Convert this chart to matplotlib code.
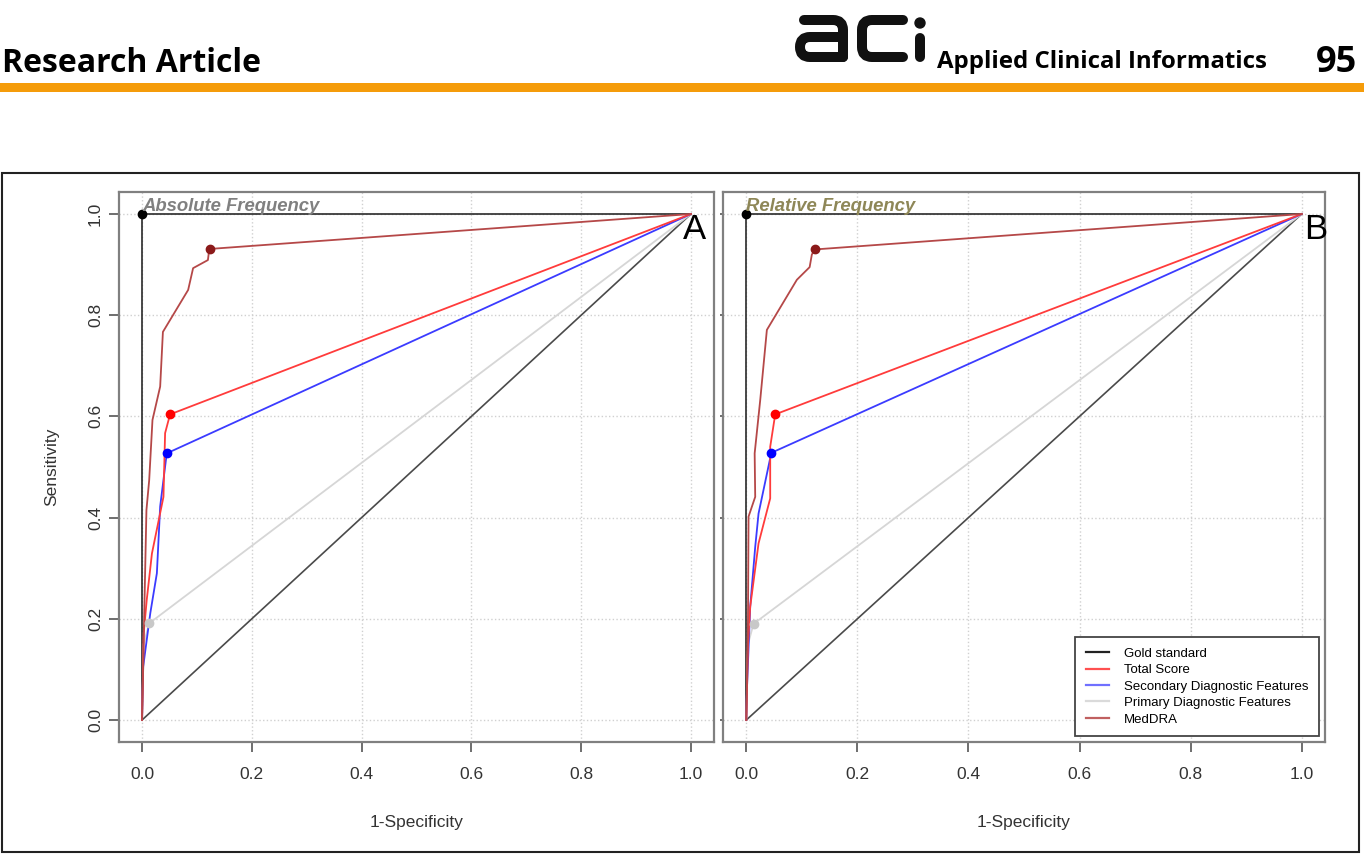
import matplotlib
matplotlib.use("Agg")
import numpy as np
import matplotlib.pyplot as plt
from matplotlib import font_manager
from matplotlib.path import Path
from matplotlib.patches import PathPatch, Rectangle, Circle

# ---- data ----
gold_fpr = [0.0, 0.0, 1.0]
gold_tpr = [0.0, 1.0, 1.0]

# panel A: absolute frequency
total_fpr_a = [0.0, 0.003, 0.0085, 0.018, 0.039, 0.042, 0.051, 1.0]
total_tpr_a = [0.0, 0.171, 0.237, 0.329, 0.441, 0.567, 0.604, 1.0]
second_fpr_a = [0.0, 0.002, 0.015, 0.027, 0.033, 0.045, 1.0]
second_tpr_a = [0.0, 0.105, 0.211, 0.290, 0.422, 0.527, 1.0]
primary_fpr_a = [0.0, 0.003, 0.013, 1.0]
primary_tpr_a = [0.0, 0.150, 0.191, 1.0]
meddra_fpr_a = [0.0, 0.002, 0.003, 0.008, 0.013, 0.019, 0.033, 0.038,
                0.084, 0.093, 0.120, 0.122, 0.124, 1.0]
meddra_tpr_a = [0.0, 0.100, 0.160, 0.415, 0.474, 0.593, 0.659, 0.767,
                0.850, 0.893, 0.909, 0.927, 0.931, 1.0]

# panel B: relative frequency
total_fpr_b = [0.0, 0.003, 0.007, 0.022, 0.043, 0.043, 0.052, 1.0]
total_tpr_b = [0.0, 0.150, 0.224, 0.349, 0.438, 0.540, 0.604, 1.0]
second_fpr_b = [0.0, 0.001, 0.007, 0.016, 0.022, 0.045, 1.0]
second_tpr_b = [0.0, 0.059, 0.224, 0.342, 0.408, 0.528, 1.0]
primary_fpr_b = [0.0, 0.003, 0.013, 1.0]
primary_tpr_b = [0.0, 0.150, 0.190, 1.0]
meddra_fpr_b = [0.0, 0.003, 0.004, 0.016, 0.015, 0.025, 0.037, 0.091,
                0.114, 0.118, 0.124, 1.0]
meddra_tpr_b = [0.0, 0.200, 0.402, 0.441, 0.527, 0.632, 0.771, 0.870,
                0.895, 0.920, 0.930, 1.0]

ticks = [0.0, 0.2, 0.4, 0.6, 0.8, 1.0]
tick_labels = ["0.0", "0.2", "0.4", "0.6", "0.8", "1.0"]


def pick_font(names, default="DejaVu Sans"):
    have = {f.name for f in font_manager.fontManager.ttflist}
    for n in names:
        if n in have:
            return n
    return default


def rounded_path(pts, r):
    """polyline with rounded interior corners"""
    pts = np.asarray(pts, float)
    verts = [pts[0]]
    codes = [Path.MOVETO]
    for i in range(1, len(pts) - 1):
        p0, p1, p2 = pts[i - 1], pts[i], pts[i + 1]
        d1 = (p1 - p0) / np.linalg.norm(p1 - p0)
        d2 = (p2 - p1) / np.linalg.norm(p2 - p1)
        verts += [p1 - d1 * r, p1, p1 + d2 * r]
        codes += [Path.LINETO, Path.CURVE3, Path.CURVE3]
    verts.append(pts[-1])
    codes.append(Path.LINETO)
    return Path(verts, codes)


ARIAL = pick_font(["Liberation Sans", "Arial"])
HEAD = pick_font(["Open Sans", "Noto Sans"])
plt.rcParams["font.family"] = ARIAL

fig = plt.figure(figsize=(13.64, 8.56), dpi=100)

# ---- page decoration (pixel coordinates) ----
deco = fig.add_axes([0, 0, 1, 1])
deco.set_xlim(0, 1364)
deco.set_ylim(856, 0)
deco.axis("off")

deco.text(2, 72, "Research Article", fontsize=23, fontweight="bold",
          family=HEAD, ha="left", va="baseline")
deco.text(937, 68, "Applied Clinical Informatics", fontsize=17.3,
          fontweight="bold", family=HEAD, ha="left", va="baseline")
deco.text(1357, 72, "95", fontsize=26, fontweight="bold", family=HEAD,
          ha="right", va="baseline")
deco.add_patch(Rectangle((0, 83), 1364, 9, color="#F59C0A", lw=0))

# aci logo drawn as thick rounded strokes
lw_logo = 7.2
logo_paths = [
    [(804, 20), (843, 20), (843, 57)],                       # a: hook
    [(843, 37), (800, 37), (800, 57), (843, 57)],            # a: bowl
    [(903, 20), (862, 20), (862, 57), (903, 57)],            # c
]
for pts in logo_paths:
    deco.add_patch(PathPatch(rounded_path(pts, 10), fill=False, lw=lw_logo,
                             edgecolor="#111111", capstyle="round",
                             joinstyle="round"))
deco.plot([920, 920], [38, 57], color="#111111", lw=lw_logo,
          solid_capstyle="round")
deco.add_patch(Circle((920, 23), 5, color="#111111"))

# outer frame around the figure
deco.add_patch(Rectangle((2, 173), 1357, 679, fill=False, lw=1.5,
                         edgecolor="#222222"))

# ---- the two ROC panels ----
ax_a = fig.add_axes([119 / 1364, 1 - 742 / 856, 595 / 1364, 550 / 856])
ax_b = fig.add_axes([723 / 1364, 1 - 742 / 856, 602 / 1364, 550 / 856])

c_total = "#FF3B3B"
c_second = "#3B3BFF"
c_primary = "#D6D6D6"
c_meddra = "#B54848"

panels = [
    (ax_a, "Absolute Frequency", "#808080", "A",
     total_fpr_a, total_tpr_a, second_fpr_a, second_tpr_a,
     primary_fpr_a, primary_tpr_a, meddra_fpr_a, meddra_tpr_a),
    (ax_b, "Relative Frequency", "#8E8757", "B",
     total_fpr_b, total_tpr_b, second_fpr_b, second_tpr_b,
     primary_fpr_b, primary_tpr_b, meddra_fpr_b, meddra_tpr_b),
]

for (ax, title, tcol, letter, tf, tt, sf, st, pf, pt, mf, mt) in panels:
    ax.set_xlim(-0.042, 1.042)
    ax.set_ylim(-0.0435, 1.0435)
    ax.grid(True, color="#D0D0D0", ls=":", lw=1.0)
    ax.set_axisbelow(True)

    ax.plot([0, 1], [0, 1], color="#4A4A4A", lw=1.2)
    ax.plot(gold_fpr, gold_tpr, color="#2A2A2A", lw=1.2, label="Gold standard")
    ax.plot(pf, pt, color=c_primary, lw=1.3, label="Primary Diagnostic Features")
    ax.plot(sf, st, color=c_second, lw=1.3, label="Secondary Diagnostic Features")
    ax.plot(tf, tt, color=c_total, lw=1.3, label="Total Score")
    ax.plot(mf, mt, color=c_meddra, lw=1.3, label="MedDRA")

    ax.plot(gold_fpr[1], gold_tpr[1], "o", color="black", ms=6)
    ax.plot(pf[-2], pt[-2], "o", color="#C8C8C8", ms=6)
    ax.plot(sf[-2], st[-2], "o", color="#0000FF", ms=6)
    ax.plot(tf[-2], tt[-2], "o", color="#FF0000", ms=6)
    ax.plot(mf[-2], mt[-2], "o", color="#8B1A1A", ms=6)

    ax.text(0.0, 1.015, title, color=tcol, fontsize=13.3, fontweight="bold",
            style="italic", ha="left", va="center")
    ax.text(0.986 if letter == "A" else 1.004, 0.97, letter, fontsize=25,
            ha="left", va="center")

    ax.set_xticks(ticks)
    ax.set_xticklabels(tick_labels)
    ax.set_yticks(ticks)
    for s in ax.spines.values():
        s.set_color("#808080")
        s.set_linewidth(1.6)
    ax.tick_params(axis="x", length=7, width=1.2, color="#555555",
                   pad=11, labelsize=12.5, labelcolor="#333333")
    ax.set_xlabel("1-Specificity", fontsize=12.5, color="#333333", labelpad=23.5)

# y axis of A with rotated labels, B only short ticks
ax_a.set_yticklabels(tick_labels, rotation=90, va="center")
ax_a.tick_params(axis="y", length=7, width=1.2, color="#555555", pad=4.5,
                 labelsize=12.5, labelcolor="#333333")
ax_a.set_ylabel("Sensitivity", fontsize=12.5, color="#333333", labelpad=21)
ax_b.set_yticklabels([])
ax_b.tick_params(axis="y", length=2.5, width=1.2, color="#555555")

# legend with the same order as the reference
h, l = ax_b.get_legend_handles_labels()
order = ["Gold standard", "Total Score", "Secondary Diagnostic Features",
         "Primary Diagnostic Features", "MedDRA"]
hh = [h[l.index(o)] for o in order]
leg = ax_b.legend(hh, order, loc="lower right", fontsize=9.5, frameon=True,
                  fancybox=False, edgecolor="#444444", framealpha=1,
                  handlelength=1.8, labelspacing=0.32, borderpad=0.8,
                  borderaxespad=0.45, handletextpad=1.1)
leg.get_frame().set_linewidth(1.3)
for line, c in zip(leg.get_lines(), ["#222222", "#FF5050", "#7070FF",
                                     "#DADADA", "#C06060"]):
    line.set_color(c)
    line.set_linewidth(1.6)

fig.savefig("out.png", dpi=100)
